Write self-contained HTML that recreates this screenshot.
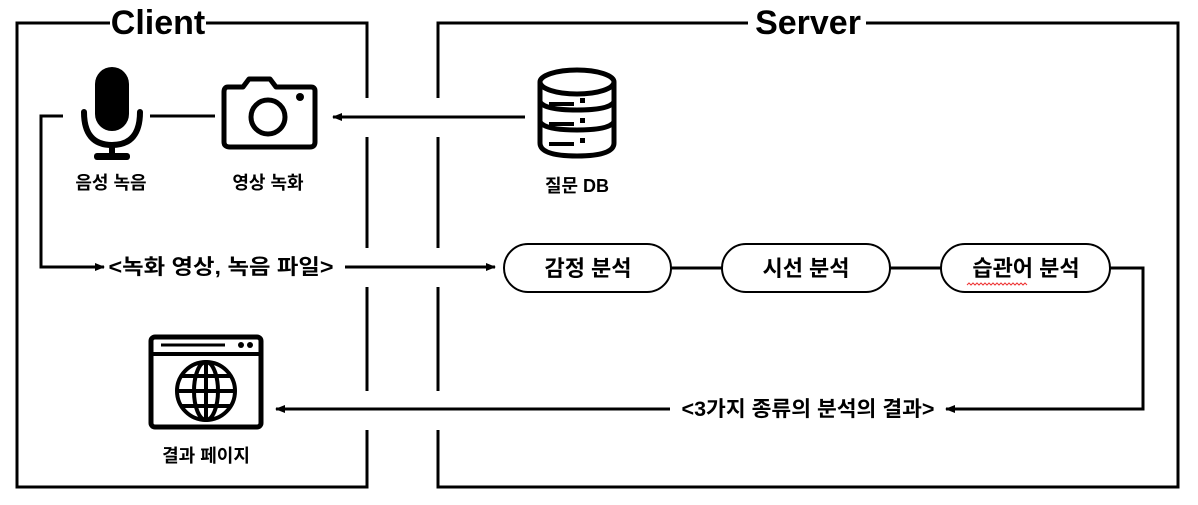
<!DOCTYPE html>
<html><head><meta charset="utf-8"><style>
html,body{margin:0;padding:0;background:#fff;}
svg{display:block;}
text{font-family:"Liberation Sans","Noto Sans CJK KR",sans-serif;fill:#000;}
</style></head><body>
<svg width="1198" height="505" viewBox="0 0 1198 505" xmlns="http://www.w3.org/2000/svg">
<defs>
<marker id="a" markerWidth="10" markerHeight="10" refX="9" refY="5" orient="auto" markerUnits="userSpaceOnUse">
<path d="M0,1 L10,5 L0,9 Z" fill="#000"/></marker>
</defs>
<g stroke="#000" stroke-width="3" fill="none">
<path d="M110,23 H17 V487 H367 V430 M367,391 V287 M367,248 V137 M367,98 V23 H206"/>
<path d="M748,23 H438 V98 M438,137 V248 M438,287 V391 M438,430 V487 H1178 V23 H866"/>
</g>
<text x="158" y="34" font-size="34" font-weight="bold" text-anchor="middle">Client</text>
<text x="808" y="34" font-size="34" font-weight="bold" text-anchor="middle">Server</text>

<rect x="95" y="67" width="34" height="64" rx="17" fill="#000"/>
<path d="M84,112 Q84,145 112,145 Q140,145 140,112" stroke="#000" stroke-width="6" fill="none" stroke-linecap="round"/>
<line x1="112" y1="145" x2="112" y2="156" stroke="#000" stroke-width="6"/>
<rect x="94" y="153" width="36" height="7" rx="3" fill="#000"/>
<path d="M228,87 H243 L249,79 H270 L276,87 H311 Q315,87 315,91 V142 Q315,147 310,147 H230 Q224,147 224,142 V92 Q224,87 228,87 Z" stroke="#000" stroke-width="5" fill="none" stroke-linejoin="round"/>
<circle cx="268" cy="117" r="17" stroke="#000" stroke-width="5" fill="none"/>
<circle cx="300" cy="97" r="4" fill="#000"/>
<g stroke="#000" stroke-width="5" fill="none">
<ellipse cx="577" cy="82" rx="37" ry="12"/>
<path d="M540,82 V143 Q540,156 577,156 Q614,156 614,143 V82"/>
<path d="M540,102 Q545,110 577,110 Q609,110 614,102"/>
<path d="M540,122 Q545,130 577,130 Q609,130 614,122"/>
</g>
<g fill="#000"><rect x="580" y="98" width="5" height="5"/><rect x="580" y="118" width="5" height="5"/><rect x="580" y="138" width="5" height="5"/>
<rect x="549" y="102" width="25" height="4"/><rect x="549" y="122" width="25" height="4"/><rect x="549" y="142" width="25" height="4"/></g>
<rect x="151" y="337" width="110" height="90" rx="4" stroke="#000" stroke-width="5" fill="none"/>
<line x1="151" y1="354" x2="261" y2="354" stroke="#000" stroke-width="4"/>
<line x1="161" y1="345" x2="225" y2="345" stroke="#000" stroke-width="3"/>
<circle cx="241" cy="345" r="3" fill="#000"/><circle cx="250" cy="345" r="3" fill="#000"/>
<g stroke="#000" stroke-width="4" fill="none">
<circle cx="206" cy="391" r="29"/>
<ellipse cx="206" cy="391" rx="12" ry="29"/>
<line x1="206" y1="362" x2="206" y2="420"/>
<line x1="177" y1="391" x2="235" y2="391"/>
<path d="M182,376 H230 M182,406 H230"/>
</g>

<g stroke="#000" stroke-width="3" fill="none">
<line x1="150" y1="116" x2="215" y2="116"/>
<path d="M63,116 H41 V267 H104" marker-end="url(#a)"/>
<line x1="525" y1="117" x2="333" y2="117" marker-end="url(#a)"/>
<line x1="345" y1="267" x2="495" y2="267" marker-end="url(#a)"/>
<line x1="671" y1="268" x2="722" y2="268"/>
<line x1="890" y1="268" x2="941" y2="268"/>
<path d="M1110,268 H1143 V409 H946" marker-end="url(#a)"/>
<line x1="670" y1="409" x2="276" y2="409" marker-end="url(#a)"/>
</g>
<g stroke="#000" stroke-width="2" fill="#fff">
<rect x="504" y="244" width="167" height="48" rx="24"/>
<rect x="722" y="244" width="168" height="48" rx="24"/>
<rect x="941" y="244" width="169" height="48" rx="24"/>
</g>
<g font-size="22" font-weight="bold" text-anchor="middle">
<text x="588" y="276">감정 분석</text>
<text x="806" y="276">시선 분석</text>
<text x="1026" y="276">습관어 분석</text>
</g>
<path d="M967,285 l2,-2 l2,2 l2,-2 l2,2 l2,-2 l2,2 l2,-2 l2,2 l2,-2 l2,2 l2,-2 l2,2 l2,-2 l2,2 l2,-2 l2,2 l2,-2 l2,2 l2,-2 l2,2 l2,-2 l2,2 l2,-2 l2,2 l2,-2 l2,2 l2,-2 l2,2 l2,-2 l2,2" stroke="#e33" stroke-width="1" fill="none"/>
<g font-size="18" font-weight="bold" text-anchor="middle">
<text x="111" y="189">음성 녹음</text>
<text x="268" y="189">영상 녹화</text>
<text x="577" y="192">질문 DB</text>
<text x="206" y="462">결과 페이지</text>
</g>
<g font-size="21" font-weight="bold" text-anchor="middle">
<text x="221" y="274" textLength="225" lengthAdjust="spacingAndGlyphs">&lt;녹화 영상, 녹음 파일&gt;</text>
<text x="808" y="416" textLength="253" lengthAdjust="spacingAndGlyphs">&lt;3가지 종류의 분석의 결과&gt;</text>
</g>
</svg>
</body></html>
